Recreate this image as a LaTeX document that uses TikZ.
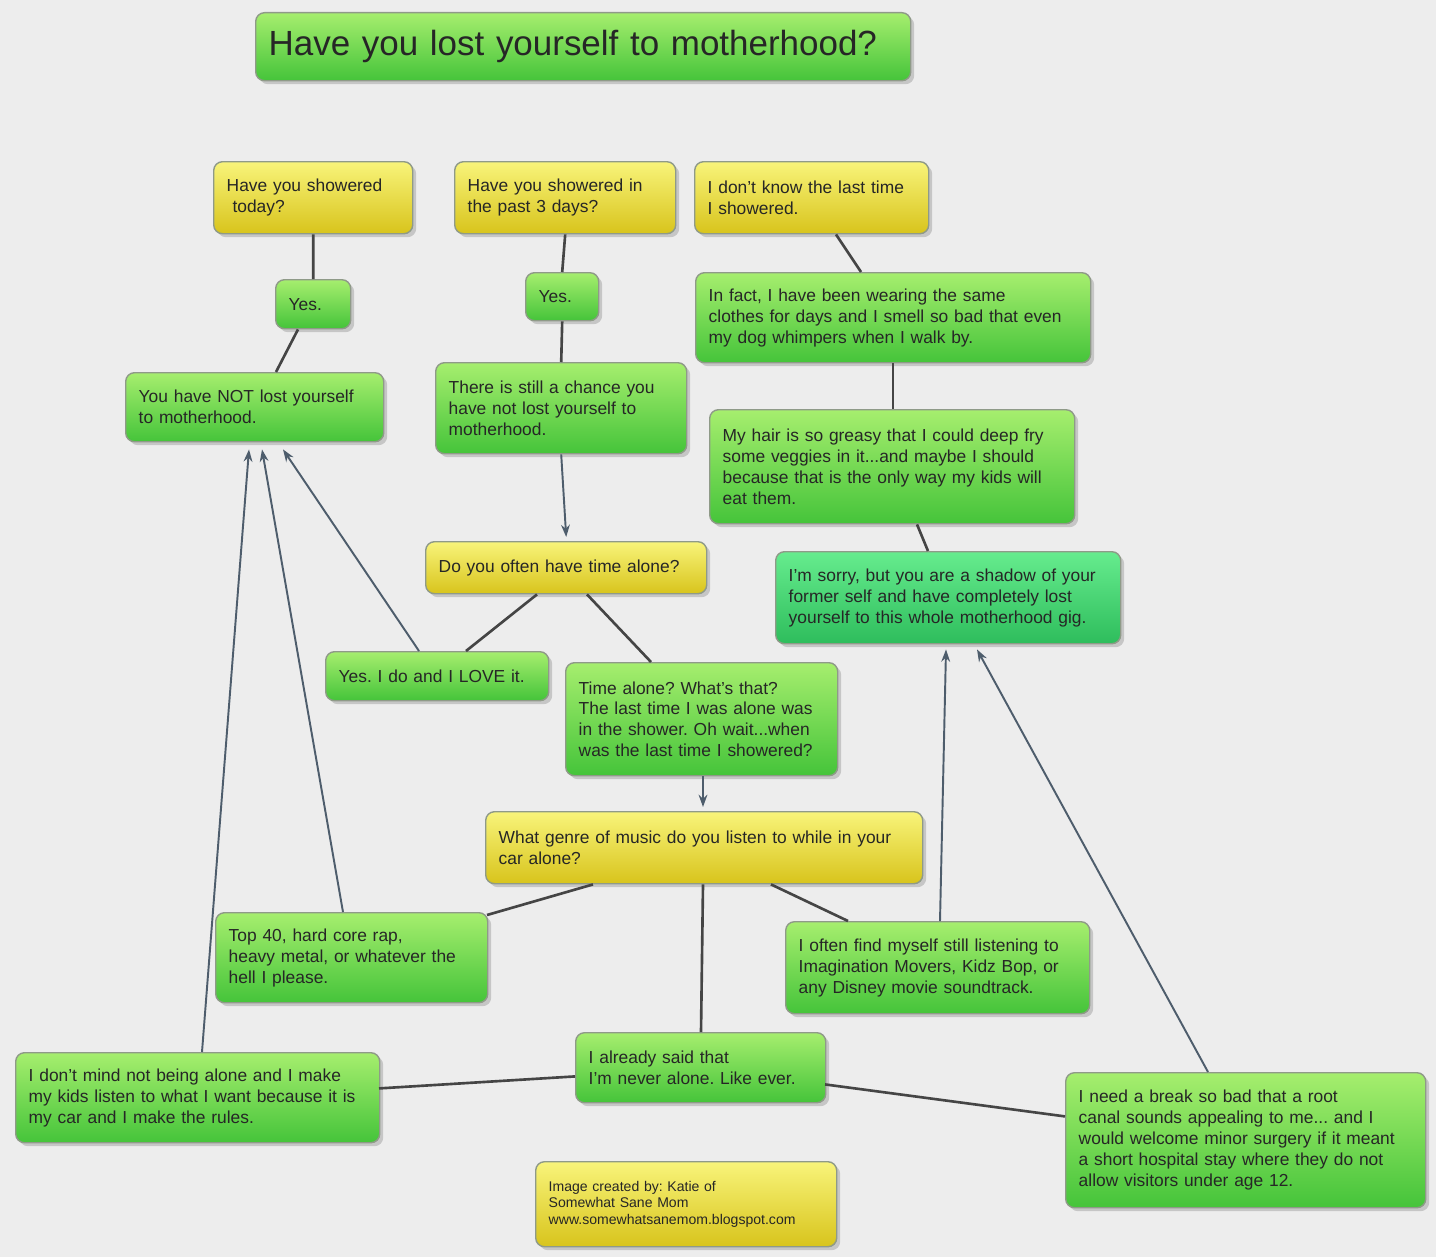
\documentclass[tikz,border=0pt]{standalone}
\usepackage{fontspec}
\setmainfont{Liberation Sans}
\usetikzlibrary{calc,shadows,arrows.meta}
\frenchspacing
\definecolor{bg}{HTML}{EDEDED}
\definecolor{gtop}{HTML}{A6EE6E}
\definecolor{gbot}{HTML}{45C43A}
\definecolor{ytop}{HTML}{F8F47A}
\definecolor{ybot}{HTML}{D8C41C}
\definecolor{ttop}{HTML}{66EC8E}
\definecolor{tbot}{HTML}{2EBD5C}
\definecolor{bord}{HTML}{8F9A88}
\definecolor{lnk}{HTML}{454545}
\definecolor{arr}{HTML}{4E5D6C}
\tikzset{
 basebox/.style={draw=bord, line width=0.8pt, rounded corners=5pt, inner xsep=0.26cm, inner ysep=0pt, align=left,
   font=\fontsize{9.9}{11.9}\selectfont, text=black!85, drop shadow={shadow xshift=2pt,shadow yshift=-2pt,opacity=0.35}},
 gbox/.style={basebox, top color=gtop, bottom color=gbot},
 ybox/.style={basebox, top color=ytop, bottom color=ybot},
 tbox/.style={basebox, top color=ttop, bottom color=tbot},
 lk/.style={draw=lnk, line width=1.5pt},
 ar/.style={draw=arr, line width=1.1pt, -{Stealth[length=7pt,width=5pt]}}
}
\newcommand\BOX[7]{%
 \pgfmathsetmacro\bw{(#5-#3)*0.02}\pgfmathsetmacro\bh{(#6-#4)*0.02}\pgfmathsetmacro\tw{(#5-#3-26)*0.02}%
 \node[#1, anchor=north west, minimum width=\bw cm, minimum height=\bh cm, text width=\tw cm] (#2) at (#3,#4) {#7};}
\begin{document}
\begin{tikzpicture}[x=0.02cm,y=-0.02cm]
\fill[bg] (0,0) rectangle (1436,1257);
\useasboundingbox (0,0) rectangle (1436,1257);
\BOX{gbox,font=\fontsize{19.9}{22}\selectfont}{title}{255}{12}{910}{80}{Have you lost yourself to motherhood?}
\BOX{ybox}{q1}{213}{161}{412}{233}{Have you showered\\ \ today?}
\BOX{ybox}{q2}{454}{161}{675}{233}{Have you showered in\\the past 3 days?}
\BOX{ybox}{q3}{694}{161}{928}{233}{I don't know the last time\\I showered.}
\BOX{gbox}{yes1}{275}{279}{350}{328}{Yes.}
\BOX{gbox}{yes2}{525}{272}{598}{320}{Yes.}
\BOX{gbox}{notlost}{125}{372}{383}{441}{You have NOT lost yourself\\to motherhood.}
\BOX{gbox}{chance}{435}{362}{686}{453}{There is still a chance you\\have not lost yourself to\\motherhood.}
\BOX{gbox}{infact}{695}{272}{1090}{362}{In fact, I have been wearing the same\\clothes for days and I smell so bad that even\\my dog whimpers when I walk by.}
\BOX{gbox}{hair}{709}{409}{1074}{523}{My hair is so greasy that I could deep fry\\some veggies in it...and maybe I should\\because that is the only way my kids will\\eat them.}
\BOX{tbox}{sorry}{775}{551}{1120}{643}{I'm sorry, but you are a shadow of your\\former self and have completely lost\\yourself to this whole motherhood gig.}
\BOX{ybox}{alone}{425}{541}{706}{593}{Do you often have time alone?}
\BOX{gbox}{yeslove}{325}{651}{548}{700}{Yes. I do and I LOVE it.}
\BOX{gbox}{what}{565}{662}{837}{775}{Time alone? What's that?\\The last time I was alone was\\in the shower. Oh wait...when\\was the last time I showered?}
\BOX{ybox}{genre}{485}{811}{922}{883}{What genre of music do you listen to while in your\\car alone?}
\BOX{gbox}{top}{215}{912}{487}{1002}{Top 40, hard core rap,\\heavy metal, or whatever the\\hell I please.}
\BOX{gbox}{imag}{785}{921}{1089}{1013}{I often find myself still listening to\\Imagination Movers, Kidz Bop, or\\any Disney movie soundtrack.}
\BOX{gbox}{already}{575}{1032}{825}{1102}{I already said that\\I'm never alone. Like ever.}
\BOX{gbox}{dont}{15}{1052}{379}{1142}{I don't mind not being alone and I make\\my kids listen to what I want because it is\\my car and I make the rules.}
\BOX{gbox}{brk}{1065}{1072}{1425}{1207}{I need a break so bad that a root\\canal sounds appealing to me... and I\\would welcome minor surgery if it meant\\a short hospital stay where they do not\\allow visitors under age 12.}
\BOX{ybox,font=\fontsize{8}{9.2}\selectfont}{credit}{535}{1161}{836}{1246}{Image created by: Katie of\\Somewhat Sane Mom\\www.somewhatsanemom.blogspot.com}
% links
\draw[lk] (q1.south) -- (yes1.north);
\draw[lk] ($(yes1.south west)+(23,0)$) -- ($(notlost.north west)+(151,0)$);
\draw[lk] (q2.south) -- (yes2.north);
\draw[lk] (yes2.south) -- (chance.north);
\draw[lk] ($(q3.south west)+(142,0)$) -- ($(infact.north west)+(166,0)$);
\draw[lk] ($(infact.south west)+(198,0)$) -- ($(hair.north west)+(184,0)$);
\draw[lk] ($(hair.south west)+(208,0)$) -- ($(sorry.north west)+(153,0)$);
\draw[lk] ($(alone.south west)+(112,0)$) -- ($(yeslove.north west)+(141,0)$);
\draw[lk] ($(alone.south west)+(162,0)$) -- ($(what.north west)+(86,0)$);
\draw[lk] ($(genre.south west)+(108,0)$) -- ($(top.north west)+(272,3)$);
\draw[lk] ($(genre.south west)+(286,0)$) -- ($(imag.north west)+(63,0)$);
\draw[lk] ($(genre.south west)+(218,0)$) -- ($(already.north west)+(126,0)$);
\draw[lk] ($(dont.south west)+(364,-55)$) -- ($(already.south west)+(0,-27)$);
\draw[lk] ($(already.south west)+(250,-19)$) -- ($(brk.south west)+(0,-92)$);
% arrows
\draw[ar] (chance.south) -- ($(alone.north)+(0,-4)$);
\draw[ar] ($(yeslove.north west)+(94,0)$) -- ($(notlost.south west)+(158,7)$);
\draw[ar] ($(what.south west)+(138,0)$) -- ($(genre.north west)+(218,-4)$);
\draw[ar] ($(top.north west)+(128,0)$) -- ($(notlost.south west)+(137,7)$);
\draw[ar] ($(dont.north west)+(187,0)$) -- ($(notlost.south west)+(124,7)$);
\draw[ar] ($(imag.north west)+(155,0)$) -- ($(sorry.south west)+(171,5)$);
\draw[ar] ($(brk.north west)+(143,0)$) -- ($(sorry.south west)+(202,5)$);
\end{tikzpicture}
\end{document}
